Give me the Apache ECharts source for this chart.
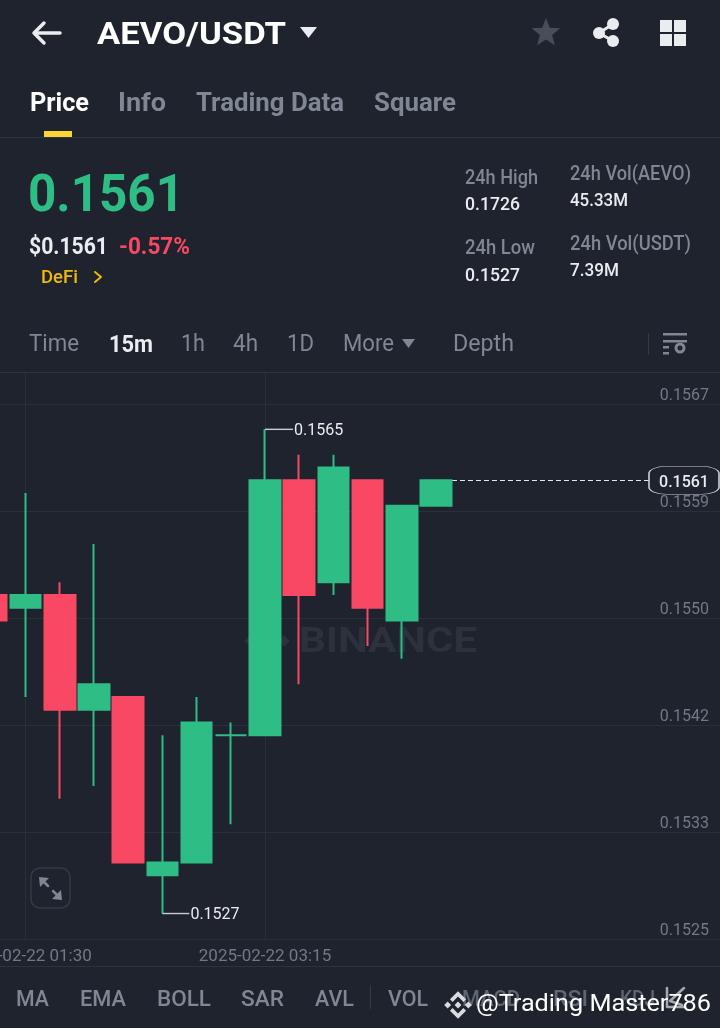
<!DOCTYPE html>
<html>
<head>
<meta charset="utf-8">
<style>html,body{margin:0;padding:0;background:#1e232d}#main{width:720px;height:1028px}</style>
<script src="https://cdn.jsdelivr.net/npm/echarts@6/dist/echarts.min.js"></script>
</head>
<body>
<div id="main"></div>
<script>
// 15m candles, first one is cut by the left edge
const categories = ['2025-02-22 01:15', '2025-02-22 01:30', '2025-02-22 01:45', '2025-02-22 02:00',
  '2025-02-22 02:15', '2025-02-22 02:30', '2025-02-22 02:45', '2025-02-22 03:00', '2025-02-22 03:15',
  '2025-02-22 03:30', '2025-02-22 03:45', '2025-02-22 04:00', '2025-02-22 04:15', '2025-02-22 04:30',
  '2025-02-22 04:45', '2025-02-22 05:00', '2025-02-22 05:15', '2025-02-22 05:30', '2025-02-22 05:45',
  '2025-02-22 06:00', '2025-02-22 06:15', '2025-02-22 06:30'];
const opens  = [0.1552, 0.1551, 0.1552, 0.1543, 0.1544, 0.1530, 0.1531, 0.1541, 0.1541, 0.1561, 0.1553, 0.1561, 0.1550, 0.1559];
const closes = [0.1550, 0.1552, 0.1543, 0.1545, 0.1531, 0.1531, 0.1542, 0.1541, 0.1561, 0.1552, 0.1562, 0.1551, 0.1559, 0.1561];
const lows   = [0.1550, 0.1544, 0.1536, 0.1537, 0.1531, 0.1527, 0.1531, 0.1534, 0.1541, 0.1545, 0.1552, 0.1548, 0.1547, 0.1559];
const highs  = [0.1552, 0.1560, 0.1553, 0.1556, 0.1544, 0.1541, 0.1544, 0.1542, 0.1565, 0.1563, 0.1563, 0.1561, 0.1559, 0.1561];
const yTicks = [0.1525, 0.15334, 0.15418, 0.15502, 0.15586, 0.1567];
const timeLabelIndexes = [1, 8];
const lastPrice = 0.1561;
const highPrice = 0.1565;
const lowPrice = 0.1527;

const BG = '#1e232d', GREEN = '#2ebd85', RED = '#f94863', LINE = '#2a2f39';
const GREY = '#7f8694', WHITE = '#eaecef', YELLOW = '#f0b90b';
const FONT = 'Roboto, "Noto Sans", sans-serif';

const ctx = document.createElement('canvas').getContext('2d');

// text squeezed to the width it has in the picture
function label(text, x0, x1, y, size, fill, weight) {
  const font = (weight || 500) + ' ' + size + 'px ' + FONT;
  ctx.font = font;
  return {
    type: 'text', x: x0, y: y + 1.5, z: 10, silent: true,
    scaleX: (x1 - x0) / ctx.measureText(text).width,
    style: { text: text, x: 0, y: 0, fill: fill, font: font, textAlign: 'left', textVerticalAlign: 'middle' }
  };
}
function poly(points, fill, z) {
  return { type: 'polygon', z: z || 10, silent: true, shape: { points: points }, style: { fill: fill } };
}
function stroke(points, color, width) {
  return { type: 'polyline', z: 10, silent: true, shape: { points: points },
    style: { stroke: color, lineWidth: width, fill: null, lineCap: 'round', lineJoin: 'round' } };
}
function box(x, y, w, h, fill, r, z) {
  return { type: 'rect', z: z || 10, silent: true, shape: { x: x, y: y, width: w, height: h, r: r || 0 }, style: { fill: fill } };
}
function dot(x, y, r, fill) {
  return { type: 'circle', z: 10, silent: true, shape: { cx: x, cy: y, r: r }, style: { fill: fill } };
}
function logo(cx, cy, k, fill, z) {
  const shapes = [
    [[0, -3], [3, 0], [0, 3], [-3, 0]],
    [[-9, -3], [-6, 0], [-9, 3], [-12, 0]],
    [[9, -3], [12, 0], [9, 3], [6, 0]],
    [[0, -12], [7, -5], [4.7, -2.7], [0, -7.4], [-4.7, -2.7], [-7, -5]],
    [[0, 12], [7, 5], [4.7, 2.7], [0, 7.4], [-4.7, 2.7], [-7, 5]]
  ];
  return shapes.map(s => poly(s.map(p => [cx + p[0] * k, cy + p[1] * k]), fill, z));
}
function star(cx, cy, R, r, fill) {
  const pts = [];
  for (let i = 0; i < 10; i++) {
    const a = -Math.PI / 2 + i * Math.PI / 5, d = i % 2 ? r : R;
    pts.push([cx + d * Math.cos(a), cy + d * Math.sin(a)]);
  }
  return poly(pts, fill);
}

const chrome = [
  // header
  stroke([[35, 33], [60, 33]], WHITE, 3.5),
  stroke([[44, 23], [34, 33], [44, 43]], WHITE, 3.5),
  label('AEVO/USDT', 97, 286, 34, 32, '#ffffff', 700),
  poly([[300, 27], [317, 27], [308.5, 38]], WHITE),
  star(546, 33, 15, 6.5, '#474d59'),
  stroke([[613, 24], [599, 33], [613, 41]], WHITE, 3),
  dot(613, 24, 6, WHITE), dot(599, 33, 6, WHITE), dot(613, 41, 6, WHITE),
  box(660, 20, 12, 12, WHITE), box(674, 20, 12, 12, WHITE), box(660, 34, 12, 12, WHITE), box(674, 34, 12, 12, WHITE),
  // tabs
  label('Price', 30, 89, 103, 26, '#ffffff', 700),
  label('Info', 118, 166, 103, 26, GREY, 700),
  label('Trading Data', 196, 344, 103, 26, GREY, 700),
  label('Square', 374, 456, 103, 26, GREY, 700),
  box(44, 131, 28, 6, '#fcd535'),
  box(0, 137, 720, 1, '#2d323d'),
  // price block
  label('0.1561', 28, 184, 197, 51, GREEN, 700),
  label('$0.1561', 29, 108, 247, 23, WHITE, 700),
  label('-0.57%', 119, 190, 247, 23, RED, 700),
  label('DeFi', 41, 78, 277, 19, YELLOW, 500),
  stroke([[95, 272], [101, 277], [95, 282]], YELLOW, 2),
  label('24h High', 465, 538, 177, 20, GREY),
  label('0.1726', 465, 520, 204, 19, WHITE),
  label('24h Low', 465, 535, 247, 20, GREY),
  label('0.1527', 465, 520, 275, 19, WHITE),
  label('24h Vol(AEVO)', 570, 691, 173, 20, GREY),
  label('45.33M', 570, 628, 200, 19, WHITE),
  label('24h Vol(USDT)', 570, 691, 243, 20, GREY),
  label('7.39M', 570, 619, 270, 19, WHITE),
  // interval row
  label('Time', 29, 79, 344, 23, GREY, 400),
  label('15m', 109, 153, 345, 23, WHITE, 700),
  label('1h', 181, 205, 344, 23, GREY, 400),
  label('4h', 233, 258, 344, 23, GREY, 400),
  label('1D', 287, 314, 344, 23, GREY, 400),
  label('More', 343, 394, 344, 23, GREY, 400),
  poly([[402, 339], [415, 339], [408.5, 348]], GREY),
  label('Depth', 453, 514, 344, 23, GREY, 400),
  box(648, 333, 1, 22, '#333945'),
  box(663, 333, 24, 2.5, GREY), box(663, 340, 24, 2.5, GREY), box(663, 346, 6, 2.5, GREY), box(663, 352, 6, 2.5, GREY),
  { type: 'circle', z: 10, silent: true, shape: { cx: 680, cy: 348, r: 4 }, style: { fill: null, stroke: GREY, lineWidth: 3 } },
  box(0, 372, 720, 1, '#2d323d'),
  // chart watermark goes under the candles
  ...logo(267, 641, 1.9, '#2c313b', 1),
  {
    type: 'text', x: 299, y: 643, z: 1, silent: true,
    style: { text: 'BINANCE', x: 0, y: 0, fill: '#2c313b', font: '700 35px ' + FONT, textVerticalAlign: 'middle' },
    scaleX: 1.2
  },
  // expand button
  { type: 'rect', z: 10, silent: true, shape: { x: 31, y: 868, width: 39, height: 40, r: 9 }, style: { fill: null, stroke: '#333945', lineWidth: 1.5 } },
  poly([[39, 877], [49, 878], [40, 887]], GREY),
  poly([[62, 900], [52, 899], [61, 890]], GREY),
  stroke([[43, 881], [48, 886]], GREY, 2.5),
  stroke([[58, 896], [53, 891]], GREY, 2.5),
  // time axis bottom border and indicator row
  box(0, 966, 720, 1, '#2d323d'),
  label('MA', 16, 49, 999, 22, GREY, 500),
  label('EMA', 80, 126, 999, 22, GREY, 500),
  label('BOLL', 157, 211, 999, 22, GREY, 500),
  label('SAR', 241, 284, 999, 22, GREY, 500),
  label('AVL', 315, 354, 999, 22, GREY, 500),
  box(370, 985, 1, 24, '#333945'),
  label('VOL', 388, 428, 999, 22, GREY, 500),
  label('MACD', 462, 520, 999, 22, '#5f6673', 500),
  label('RSI', 553, 588, 999, 22, '#5f6673', 500),
  label('KDJ', 620, 655, 999, 22, '#5f6673', 500),
  stroke([[667, 988], [667, 1007], [685, 1007]], '#a3a8b1', 2.5),
  stroke([[684, 988], [670, 1001], [682, 1005]], '#a3a8b1', 2.5),
  // repost watermark
  ...logo(458, 1005, 1.15, '#d9dbdf', 11),
  Object.assign(label('@Trading Master786', 476, 711, 1004, 23, '#ffffff', 400), { z: 12 })
];

const chart = echarts.init(document.getElementById('main'), null, { width: 720, height: 1028 });

chart.setOption({
  animation: false,
  backgroundColor: BG,
  graphic: chrome,
  // first candle hangs over the left edge, so the grid starts off the page
  grid: { left: -25.7, width: 752.4, top: 372, height: 567, outerBoundsMode: 'none' },
  xAxis: {
    type: 'category',
    data: categories,
    boundaryGap: true,
    axisLine: { show: true, lineStyle: { color: LINE } },
    axisTick: { show: false },
    splitLine: { show: false },
    axisLabel: {
      color: '#727985', fontSize: 17, fontFamily: FONT, margin: 9,
      interval: (i) => timeLabelIndexes.includes(i)
    }
  },
  yAxis: {
    type: 'value',
    position: 'right',
    min: 0.1525,
    max: 0.15695,
    scale: true,
    axisLine: { show: false },
    axisTick: { show: false, customValues: yTicks },
    splitLine: { show: true, lineStyle: { color: LINE, width: 1 } },
    axisLabel: {
      inside: true, customValues: yTicks, margin: 17.7, color: '#727985', fontSize: 16, fontFamily: FONT,
      verticalAlign: 'bottom', padding: 0,
      formatter: (v) => v.toFixed(4)
    }
  },
  series: [
    {
      // reference lines that sit under the candles
      type: 'line',
      data: [],
      z: 1,
      silent: true,
      markLine: {
        z: 1,
        silent: true,
        symbol: 'none',
        label: { show: false },
        data: [
          ...timeLabelIndexes.map(i => ({ xAxis: categories[i], lineStyle: { color: LINE, width: 1, type: 'solid' } })),
          [
            { coord: [categories[opens.length - 1], lastPrice], lineStyle: { color: '#e4e6ea', width: 1, type: [5, 3] } },
            { coord: [categories[20], lastPrice] }
          ]
        ]
      }
    },
    {
      type: 'candlestick',
      z: 2,
      barWidth: 31,
      data: opens.map((o, i) => [o, closes[i], lows[i], highs[i]]),
      itemStyle: {
        color: GREEN, color0: RED, borderColor: GREEN, borderColor0: RED,
        borderColorDoji: GREEN, borderWidth: 2
      },
      markPoint: {
        silent: true,
        z: 6,
        data: [
          {
            coord: [categories[8], highPrice], symbol: 'rect', symbolSize: [28, 1.4], symbolOffset: ['50%', 0],
            itemStyle: { color: '#c9ccd2' },
            label: { show: true, position: 'right', distance: 1, offset: [0, 1.5], formatter: highPrice.toFixed(4), color: WHITE, fontSize: 16, fontFamily: FONT }
          },
          {
            coord: [categories[5], lowPrice], symbol: 'rect', symbolSize: [27, 1.4], symbolOffset: ['50%', 0],
            itemStyle: { color: '#c9ccd2' },
            label: { show: true, position: 'right', distance: 1, offset: [0, 1.5], formatter: lowPrice.toFixed(4), color: WHITE, fontSize: 16, fontFamily: FONT }
          },
          {
            coord: [categories[20], lastPrice], symbol: 'roundRect', symbolSize: [70, 28], symbolOffset: [8.6, 0],
            itemStyle: { color: BG, borderColor: '#cfd3d9', borderWidth: 1 },
            label: { show: true, position: 'inside', offset: [0, 2.5], formatter: lastPrice.toFixed(4), color: WHITE, fontSize: 16, fontFamily: FONT, fontWeight: 500 }
          }
        ]
      }
    }
  ]
});
</script>
</body>
</html>
